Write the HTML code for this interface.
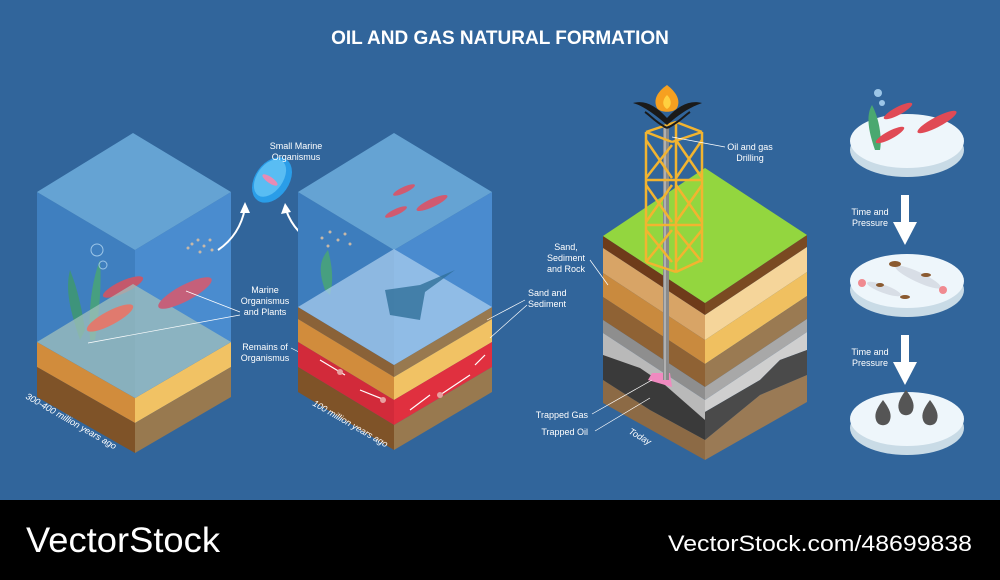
<!DOCTYPE html>
<html><head><meta charset="utf-8"><style>
html,body{margin:0;padding:0;background:#2f6299;}
svg{display:block;font-family:"Liberation Sans",sans-serif;}
</style></head><body>
<svg width="1000" height="580" viewBox="0 0 1000 580" xmlns="http://www.w3.org/2000/svg">
<rect width="1000" height="500" fill="#31659b"/>
<rect y="500" width="1000" height="80" fill="#000"/>
<text x="26" y="552" font-size="35" fill="#fff" textLength="194" lengthAdjust="spacingAndGlyphs">VectorStock</text>
<text x="668" y="551" font-size="22" fill="#fff" textLength="304" lengthAdjust="spacingAndGlyphs">VectorStock.com/48699838</text>
<text x="500" y="44" font-size="19" font-weight="bold" fill="#fff" text-anchor="middle">OIL AND GAS NATURAL FORMATION</text>

<!-- BOX 1 -->
<polygon points="37,342 135,398 135,423 37,367" fill="#d18c3c"/>
<polygon points="135,398 231,342 231,367 135,423" fill="#f1c264"/>
<polygon points="37,367 135,423 135,453 37,397" fill="#7f5328"/>
<polygon points="135,423 231,367 231,397 135,453" fill="#98794f"/>
<polygon points="37,192 135,250 135,398 37,342" fill="#3f7fbf"/>
<polygon points="135,250 231,192 231,342 135,398" fill="#4a8ccf"/>
<polygon points="133,133 231,192 135,250 37,192" fill="#65a3d3"/>
<!-- box1 life -->
<path d="M80,340 C70,310 65,290 70,270 C78,290 82,310 85,330 Z" fill="#3f9a6a" opacity="0.8"/>
<path d="M90,340 C88,310 92,280 100,260 C102,290 98,320 95,340 Z" fill="#4aa870" opacity="0.8"/>
<ellipse cx="123" cy="287" rx="22" ry="6" transform="rotate(-25 123 287)" fill="#c4586b"/>
<polygon points="133,284 231,342 135,398 37,342" fill="#a2c0bc" opacity="0.75"/>
<ellipse cx="110" cy="318" rx="26" ry="7" transform="rotate(-28 110 318)" fill="#e07a6e"/>
<ellipse cx="185" cy="293" rx="30" ry="8" transform="rotate(-28 185 293)" fill="#c5607a"/>
<circle cx="97" cy="250" r="6" fill="none" stroke="#9cc6e8" stroke-width="1"/>
<circle cx="103" cy="265" r="4" fill="none" stroke="#9cc6e8" stroke-width="1"/>
<g fill="#c7b8a8"><circle cx="192" cy="244" r="1.5"/><circle cx="198" cy="240" r="1.5"/><circle cx="204" cy="246" r="1.5"/><circle cx="210" cy="240" r="1.5"/><circle cx="200" cy="252" r="1.5"/><circle cx="188" cy="248" r="1.5"/><circle cx="212" cy="250" r="1.5"/></g>
<path d="M218,250 Q240,235 245,208" stroke="#fff" stroke-width="2" fill="none"/>
<polygon points="245,202 240,213 250,213" fill="#fff"/>
<!-- small organism disc -->
<ellipse cx="272" cy="180" rx="17" ry="25" transform="rotate(35 272 180)" fill="#2a9de8"/>
<ellipse cx="270" cy="178" rx="13" ry="21" transform="rotate(35 270 178)" fill="#59bdf3"/>
<ellipse cx="270" cy="180" rx="9" ry="3" transform="rotate(35 270 180)" fill="#e88bb5"/>
<path d="M318,244 Q295,235 286,210" stroke="#fff" stroke-width="2" fill="none"/>
<polygon points="285,203 281,214 291,212" fill="#fff"/>
<text font-size="9" fill="#fff" text-anchor="middle"><tspan x="296" y="149">Small Marine</tspan><tspan x="296" y="160">Organismus</tspan></text>
<text font-size="9" fill="#fff" text-anchor="middle"><tspan x="265" y="293">Marine</tspan><tspan x="265" y="304">Organismus</tspan><tspan x="265" y="315">and Plants</tspan></text>
<line x1="186" y1="291" x2="240" y2="312" stroke="#fff" stroke-width="0.7"/>
<line x1="88" y1="343" x2="240" y2="315" stroke="#fff" stroke-width="0.7"/>
<text font-size="9" fill="#fff" text-anchor="middle"><tspan x="265" y="350">Remains of</tspan><tspan x="265" y="361">Organismus</tspan></text>
<line x1="291" y1="348" x2="330" y2="368" stroke="#fff" stroke-width="0.7"/>
<text font-size="9" fill="#fff" font-style="italic" transform="translate(25,398) rotate(30)">300-400 million years ago</text>

<!-- BOX 2 -->
<polygon points="298,307 394,365 394,377 298,319" fill="#8a6238"/>
<polygon points="394,365 492,307 492,319 394,377" fill="#98794f"/>
<polygon points="298,319 394,377 394,400 298,342" fill="#d18c3c"/>
<polygon points="394,377 492,319 492,342 394,400" fill="#f1c264"/>
<polygon points="298,342 394,400 394,425 298,367" fill="#d22a3a"/>
<polygon points="394,400 492,342 492,367 394,425" fill="#e0303f"/>
<polygon points="298,367 394,425 394,450 298,392" fill="#7f5328"/>
<polygon points="394,425 492,367 492,392 394,450" fill="#98794f"/>
<polygon points="298,192 394,250 394,365 298,307" fill="#3d7dbd"/>
<polygon points="394,250 492,192 492,307 394,365" fill="#4a8bcf"/>
<polygon points="394,133 492,192 394,250 298,192" fill="#65a3d3"/>
<path d="M325,290 C318,270 320,260 328,250 C332,265 334,280 330,295 Z" fill="#4aa870" opacity="0.8"/>
<polygon points="394,249 492,307 394,365 298,307" fill="#a8ccee" opacity="0.75"/>
<path d="M385,290 L420,285 L455,270 L425,292 L420,320 L390,315 Z" fill="#2f6f9a" opacity="0.8"/>
<ellipse cx="404" cy="190" rx="12" ry="3" transform="rotate(-25 404 190)" fill="#d05a70"/>
<ellipse cx="432" cy="203" rx="17" ry="4" transform="rotate(-25 432 203)" fill="#d05a70"/>
<ellipse cx="396" cy="212" rx="12" ry="3" transform="rotate(-25 396 212)" fill="#d05a70"/>
<g fill="#c7b8a8"><circle cx="322" cy="238" r="1.5"/><circle cx="330" cy="232" r="1.5"/><circle cx="338" cy="240" r="1.5"/><circle cx="345" cy="234" r="1.5"/><circle cx="328" cy="246" r="1.5"/><circle cx="350" cy="244" r="1.5"/></g>
<g stroke="#fff" stroke-width="1.2" fill="none"><path d="M320,360 L345,375"/><path d="M360,390 L385,400"/><path d="M410,410 L430,395"/><path d="M440,395 L470,375"/><path d="M475,365 L485,355"/></g>
<g fill="#e8a0a0"><circle cx="340" cy="372" r="3"/><circle cx="383" cy="400" r="3"/><circle cx="440" cy="395" r="3"/></g>
<text font-size="9" fill="#fff" font-style="italic" transform="translate(312,405) rotate(30)">100 million years ago</text>
<text font-size="9" fill="#fff"><tspan x="528" y="296">Sand and</tspan><tspan x="528" y="307">Sediment</tspan></text>
<line x1="525" y1="300" x2="487" y2="320" stroke="#fff" stroke-width="0.7"/>
<line x1="527" y1="305" x2="490" y2="338" stroke="#fff" stroke-width="0.7"/>

<!-- BOX 3 -->
<polygon points="603,236 705,303 705,315 603,248" fill="#6e3b1a"/>
<polygon points="705,303 807,235 807,247 705,315" fill="#7a4a22"/>
<polygon points="603,248 705,315 705,340 603,273" fill="#d8a466"/>
<polygon points="705,315 807,247 807,272 705,340" fill="#f5d59a"/>
<polygon points="603,273 705,340 705,364 603,297" fill="#c98a3e"/>
<polygon points="705,340 807,272 807,296 705,364" fill="#f0c060"/>
<polygon points="603,297 705,364 705,387 603,320" fill="#8f6234"/>
<polygon points="705,364 807,296 807,319 705,387" fill="#9a7a52"/>
<polygon points="603,320 705,387 705,400 603,333" fill="#8e8e8e"/>
<polygon points="705,387 807,319 807,332 705,400" fill="#a8a8a8"/>
<polygon points="603,333 705,400 705,420 603,355" fill="#b9b9b9"/>
<polygon points="705,400 807,332 807,350 780,360 760,380 705,412" fill="#cfcfcf"/>
<polygon points="603,355 640,368 665,385 705,420 705,440 650,410 603,380" fill="#3a3a3a"/>
<polygon points="705,412 760,380 780,360 807,350 807,375 760,395 705,440" fill="#4a4a4a"/>
<polygon points="603,380 650,410 705,440 705,460 603,403" fill="#8c6a45"/>
<polygon points="705,440 760,395 807,375 807,402 705,460" fill="#9a7a55"/>
<polygon points="705,168 807,235 705,303 603,236" fill="#93d63f"/>
<polygon points="652,373 670,373 672,387 648,380" fill="#f08ac0"/>
<rect x="663" y="128" width="6" height="252" fill="#8a8a8a"/>
<rect x="664" y="128" width="2" height="252" fill="#b0b0b0"/>
<!-- tower -->
<g stroke="#f2b430" stroke-width="2.5" fill="none">
<line x1="646" y1="132" x2="646" y2="262"/><line x1="676" y1="122" x2="676" y2="272"/><line x1="702" y1="132" x2="702" y2="260"/>
<line x1="646" y1="132" x2="676" y2="122"/><line x1="676" y1="122" x2="702" y2="132"/><line x1="646" y1="132" x2="672" y2="142"/><line x1="672" y1="142" x2="702" y2="132"/>
<line x1="646" y1="180" x2="702" y2="180"/><line x1="646" y1="225" x2="702" y2="225"/><line x1="646" y1="262" x2="676" y2="272"/><line x1="676" y1="272" x2="702" y2="260"/>
<line x1="646" y1="140" x2="672" y2="178"/><line x1="672" y1="145" x2="646" y2="178"/><line x1="676" y1="140" x2="702" y2="178"/><line x1="702" y1="140" x2="676" y2="178"/>
<line x1="646" y1="185" x2="672" y2="222"/><line x1="672" y1="185" x2="646" y2="222"/><line x1="676" y1="185" x2="702" y2="222"/><line x1="702" y1="185" x2="676" y2="222"/>
<line x1="646" y1="230" x2="672" y2="262"/><line x1="672" y1="230" x2="646" y2="262"/><line x1="676" y1="230" x2="702" y2="262"/><line x1="702" y1="230" x2="676" y2="262"/>
</g>
<path d="M667,125 C650,110 640,105 633,103 C645,100 655,105 667,118 C679,105 690,100 702,103 C694,106 684,110 667,125 Z" fill="#1a1a1a"/>
<path d="M667,128 C655,122 650,115 645,112 M667,128 C680,122 685,115 690,112" stroke="#1a1a1a" stroke-width="2" fill="none"/>
<path d="M667,85 C657,92 653,100 657,108 C660,113 674,113 677,108 C681,100 676,92 667,85 Z" fill="#f6a020"/>
<path d="M667,95 C662,100 662,106 667,109 C672,106 672,100 667,95 Z" fill="#ffd040"/>
<text font-size="9" fill="#fff" text-anchor="middle"><tspan x="750" y="150">Oil and gas</tspan><tspan x="750" y="161">Drilling</tspan></text>
<line x1="672" y1="137" x2="725" y2="147" stroke="#fff" stroke-width="0.7"/>
<text font-size="9" fill="#fff" text-anchor="middle"><tspan x="566" y="250">Sand,</tspan><tspan x="566" y="261">Sediment</tspan><tspan x="566" y="272">and Rock</tspan></text>
<line x1="590" y1="260" x2="608" y2="285" stroke="#fff" stroke-width="0.7"/>
<text font-size="9" fill="#fff" text-anchor="end"><tspan x="588" y="418">Trapped Gas</tspan><tspan x="588" y="435">Trapped Oil</tspan></text>
<line x1="592" y1="414" x2="652" y2="380" stroke="#fff" stroke-width="0.7"/>
<line x1="595" y1="431" x2="650" y2="398" stroke="#fff" stroke-width="0.7"/>
<text font-size="9" fill="#fff" font-style="italic" transform="translate(628,433) rotate(30)">Today</text>

<!-- disks -->
<g>
<ellipse cx="907" cy="150" rx="57" ry="27" fill="#c9dbe6"/>
<ellipse cx="907" cy="141" rx="57" ry="27" fill="#eef6fb"/>
<path d="M875,150 C868,130 866,115 872,105 C880,120 882,140 880,150 Z" fill="#4aa870"/>
<ellipse cx="898" cy="111" rx="16" ry="4" transform="rotate(-28 898 111)" fill="#e04a55"/>
<ellipse cx="937" cy="122" rx="22" ry="5" transform="rotate(-28 937 122)" fill="#e04a55"/>
<ellipse cx="890" cy="135" rx="16" ry="4" transform="rotate(-28 890 135)" fill="#e04a55"/>
<circle cx="878" cy="93" r="4" fill="#9cc6e8"/><circle cx="882" cy="103" r="3" fill="#9cc6e8"/>
</g>
<g>
<ellipse cx="907" cy="290" rx="57" ry="27" fill="#c9dbe6"/>
<ellipse cx="907" cy="281" rx="57" ry="27" fill="#eef6fb"/>
<ellipse cx="918" cy="277" rx="25" ry="5" transform="rotate(25 918 277)" fill="#d8dee6"/>
<ellipse cx="884" cy="289" rx="18" ry="4" transform="rotate(20 884 289)" fill="#d8dee6"/>
<circle cx="862" cy="283" r="4" fill="#f08a90"/><circle cx="943" cy="290" r="4" fill="#f08a90"/>
<g fill="#8a5a30"><ellipse cx="895" cy="264" rx="6" ry="3"/><ellipse cx="926" cy="275" rx="5" ry="2"/><ellipse cx="905" cy="297" rx="5" ry="2"/><ellipse cx="880" cy="285" rx="4" ry="2"/></g>
</g>
<g>
<ellipse cx="907" cy="428" rx="57" ry="27" fill="#c9dbe6"/>
<ellipse cx="907" cy="419" rx="57" ry="27" fill="#eef6fb"/>
<g fill="#555"><path d="M883,400 C877,408 874,414 876,420 C878,427 888,427 890,420 C892,414 889,408 883,400 Z"/><path d="M906,390 C900,398 897,404 899,410 C901,417 911,417 913,410 C915,404 912,398 906,390 Z"/><path d="M930,400 C924,408 921,414 923,420 C925,427 935,427 937,420 C939,414 936,408 930,400 Z"/></g>
</g>
<g fill="#fff">
<rect x="901" y="195" width="8" height="30"/><polygon points="893,222 917,222 905,245"/>
<rect x="901" y="335" width="8" height="30"/><polygon points="893,362 917,362 905,385"/>
</g>
<text font-size="9" fill="#fff" text-anchor="middle"><tspan x="870" y="215">Time and</tspan><tspan x="870" y="226">Pressure</tspan></text>
<text font-size="9" fill="#fff" text-anchor="middle"><tspan x="870" y="355">Time and</tspan><tspan x="870" y="366">Pressure</tspan></text>
</svg>
</body></html>
